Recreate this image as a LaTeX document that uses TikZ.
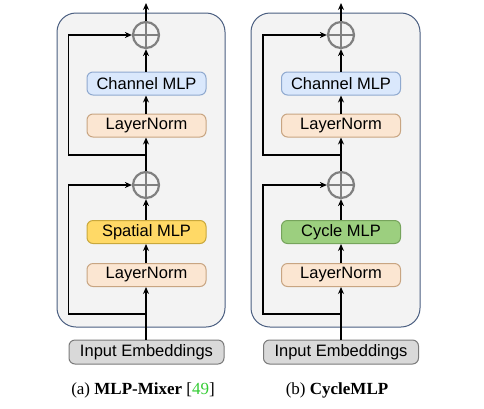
\documentclass[tikz,border=0pt]{standalone}
\usepackage{fontspec}
\setmainfont{Liberation Serif}
\newfontfamily\lab{Liberation Sans}
\usetikzlibrary{arrows.meta}
\definecolor{panelfill}{HTML}{F3F3F3}
\definecolor{paneldraw}{HTML}{4A5E80}
\definecolor{chfill}{HTML}{DAE8FC}
\definecolor{chdraw}{HTML}{8FA9CF}
\definecolor{lnfill}{HTML}{FBE6D2}
\definecolor{lndraw}{HTML}{C8A582}
\definecolor{spfill}{HTML}{FFD966}
\definecolor{spdraw}{HTML}{C9A83C}
\definecolor{cyfill}{HTML}{9CCF7F}
\definecolor{cydraw}{HTML}{76A45C}
\definecolor{infill}{HTML}{D9D9D9}
\definecolor{indraw}{HTML}{7A7A7A}
\definecolor{plusgray}{HTML}{808080}
\definecolor{refgreen}{HTML}{33CC33}
\tikzset{
  panel/.style={draw=paneldraw, fill=panelfill, line width=1pt, rounded corners=19pt},
  blk/.style={draw, line width=1pt, rounded corners=6pt, minimum width=119pt, minimum height=23pt, inner sep=0pt, font=\lab\fontsize{16.5}{18}\selectfont},
  chblk/.style={blk, fill=chfill, draw=chdraw},
  lnblk/.style={blk, fill=lnfill, draw=lndraw},
  spblk/.style={blk, fill=spfill, draw=spdraw},
  cyblk/.style={blk, fill=cyfill, draw=cydraw},
  inblk/.style={blk, fill=infill, draw=indraw, minimum width=155pt, minimum height=24pt},
  plus/.style={circle, draw=plusgray, line width=2.2pt, minimum size=26pt, inner sep=0pt,
    path picture={\draw[plusgray, line width=2.2pt]
      (path picture bounding box.north) -- (path picture bounding box.south)
      (path picture bounding box.west) -- (path picture bounding box.east);}},
  arr/.style={-{Stealth[length=7pt,width=6pt]}, line width=1.8pt, black},
  captext/.style={font=\fontsize{17}{20}\selectfont}
}
\begin{document}
\begin{tikzpicture}[x=1pt,y=-1pt]
\useasboundingbox (0,0) rectangle (484,408);
% panel (a)
\path[panel] (57,13) rectangle (225,327);
\node[plus] (pa1) at (146,35) {};
\node[chblk] (cha) at (146.5,83.5) {Channel MLP};
\node[lnblk] (lna1) at (146.5,125.5) {LayerNorm};
\node[plus] (pa2) at (146,185) {};
\node[spblk] (spa) at (146.5,232) {Spatial MLP};
\node[lnblk] (lna2) at (146.5,275) {LayerNorm};
\node[inblk] (ina) at (146.5,352) {Input Embeddings};
\coordinate (topa) at (146,3);
\coordinate (ba1) at (146,155);
\coordinate (ba2) at (146,314);
\coordinate (la1) at (68.5,155);
\coordinate (la2) at (68.5,314);
\draw[arr] (ina.north -| pa2) -- (lna2.south -| pa2);
\draw[arr] (lna2.north -| pa2) -- (spa.south -| pa2);
\draw[arr] (spa.north -| pa2) -- (pa2.south);
\draw[arr] (pa2.north) -- (lna1.south -| pa2);
\draw[arr] (lna1.north -| pa1) -- (cha.south -| pa1);
\draw[arr] (cha.north -| pa1) -- (pa1.south);
\draw[arr] (pa1.north) -- (topa);
\draw[arr] (ba2) -- (la2) -- (la2 |- pa2) -- (pa2.west);
\draw[arr] (ba1) -- (la1) -- (la1 |- pa1) -- (pa1.west);
\node[captext] (capa) at (143,390) {(a) \textbf{MLP-Mixer} [\textcolor{refgreen}{49}]};
% panel (b)
\path[panel] (251,13) rectangle (420,327);
\node[plus] (pb1) at (341,35) {};
\node[chblk] (chb) at (341,83.5) {Channel MLP};
\node[lnblk] (lnb1) at (341,125.5) {LayerNorm};
\node[plus] (pb2) at (341,185) {};
\node[cyblk] (cyb) at (341,232) {Cycle MLP};
\node[lnblk] (lnb2) at (341,275) {LayerNorm};
\node[inblk] (inb) at (341,352) {Input Embeddings};
\coordinate (topb) at (341,3);
\coordinate (bb1) at (341,155);
\coordinate (bb2) at (341,314);
\coordinate (lb1) at (263,155);
\coordinate (lb2) at (263,314);
\draw[arr] (inb.north -| pb2) -- (lnb2.south -| pb2);
\draw[arr] (lnb2.north -| pb2) -- (cyb.south -| pb2);
\draw[arr] (cyb.north -| pb2) -- (pb2.south);
\draw[arr] (pb2.north) -- (lnb1.south -| pb2);
\draw[arr] (lnb1.north -| pb1) -- (chb.south -| pb1);
\draw[arr] (chb.north -| pb1) -- (pb1.south);
\draw[arr] (pb1.north) -- (topb);
\draw[arr] (bb2) -- (lb2) -- (lb2 |- pb2) -- (pb2.west);
\draw[arr] (bb1) -- (lb1) -- (lb1 |- pb1) -- (pb1.west);
\node[captext] (capb) at (337,390) {(b) \textbf{CycleMLP}};
\end{tikzpicture}
\end{document}
